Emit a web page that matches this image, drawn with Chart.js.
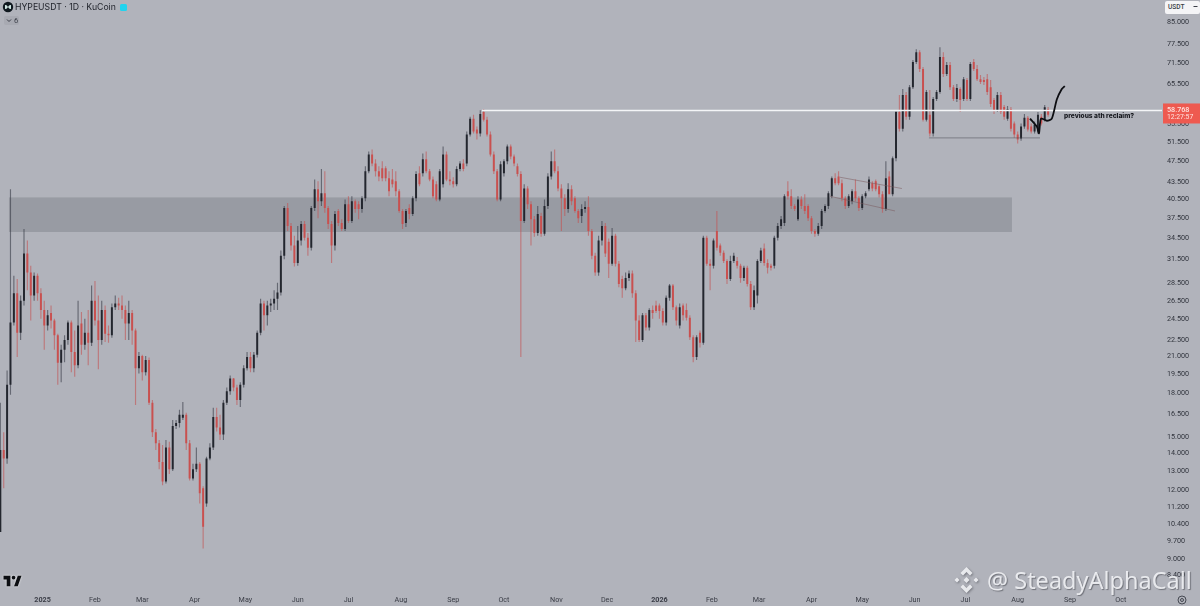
<!DOCTYPE html>
<html>
<head>
<meta charset="utf-8">
<title>HYPEUSDT 1D</title>
<script src="https://cdn.jsdelivr.net/npm/chart.js@4/dist/chart.umd.min.js"></script>
<style>
  html, body { margin: 0; padding: 0; background: #b1b3bb; overflow: hidden; }
  #wrap { position: relative; width: 1200px; height: 606px; }
  #wrap canvas { position: absolute; left: 0; top: 0; filter: blur(0.5px); }
  .abs { position: absolute; white-space: nowrap; }
  #title { left: 15px; top: 1px; font: 400 8.7px/12px Inter, Roboto, sans-serif; color: #23262e; }
  #interval { left: 4px; top: 16px; width: 15px; height: 9px; background: #a8aab2; border-radius: 2px; font: 400 7.5px/9px Roboto, sans-serif; color: #3a3d46; text-indent: 10px; }
  #unit { left: 1165px; top: 1px; width: 35px; height: 13px; background: #f4f4f6; border-radius: 2px; font: 500 6.6px/13px Roboto, sans-serif; color: #3a3d46; text-indent: 3px; }
  #note { left: 1064px; top: 112px; font: 800 6.6px/9px Inter, Roboto, sans-serif; color: #17191f; }
  #mark { left: 987px; top: 564px; font: 400 23.5px/32px "Noto Sans", sans-serif; color: rgba(240,241,244,.92); text-shadow: 1px 1px 1px rgba(60,62,70,.55); }
</style>
</head>
<body>
<div id="wrap">
  <canvas id="chart" width="1200" height="606"></canvas>
  <svg class="abs" style="left:2px;top:1px" width="12" height="12" viewBox="0 0 12 12"><circle cx="6" cy="6" r="5.2" fill="#10181f"/><path d="M3 4.2c1.2-.6 2 .2 3 1.800 1-1.600 1.800-2.400 3-1.800v3.600c-1.200.6-2-.2-3-1.800-1 1.600-1.800 2.400-3 1.800z" fill="#cfe6e2"/></svg>
  <div class="abs" id="title">HYPEUSDT · 1D · KuCoin</div>
  <div class="abs" style="left:120px;top:3.500px;width:7px;height:7px;background:#22d3ee;border-radius:1.500px"></div>
  <div class="abs" id="interval">6</div>
  <svg class="abs" style="left:6px;top:18px" width="6" height="5" viewBox="0 0 6 5"><path d="M1 1.500l2 2 2-2" fill="none" stroke="#3a3d46" stroke-width="1"/></svg>
  <div class="abs" id="unit">USDT</div>
  <svg class="abs" style="left:1193px;top:6px" width="5" height="3" viewBox="0 0 5 3"><path d="M.5.500h4" stroke="#3a3d46" stroke-width="1"/></svg>
  <div class="abs" id="note">previous ath reclaim?</div>
  <svg class="abs" style="left:3px;top:575px;filter:drop-shadow(0 0 1px #eee)" width="19" height="12" viewBox="0 0 36 22"><path d="M14 1H1v7h6v13h7zM28 21h-7l7-20h7zM20 8a3.500 3.500 0 1 0 0-7 3.500 3.500 0 0 0 0 7z" fill="#0c0e12"/></svg>
  <svg class="abs" style="left:953px;top:566px;filter:drop-shadow(1px 1px 1px rgba(60,62,70,.55))" width="27" height="28" viewBox="0 0 27 28"><g fill="rgba(240,241,244,.92)"><path d="M13.500 1l6 6-2.500 2.500-3.500-3.500-3.500 3.500L7.500 7zM13.500 27l6-6-2.500-2.500-3.500 3.500-3.500-3.500L7.500 21zM4 11.500L6.500 14 4 16.500 1.500 14zM23 11.500L25.500 14 23 16.500 20.500 14zM13.500 11L16.500 14l-3 3-3-3z"/></g></svg>
  <div class="abs" id="mark">@ SteadyAlphaCall</div>
  <svg class="abs" style="left:1177px;top:595px" width="10" height="10" viewBox="0 0 10 10"><circle cx="5" cy="5" r="4" fill="none" stroke="#3a3d46" stroke-width=".9"/><circle cx="5" cy="5" r="1.500" fill="none" stroke="#3a3d46" stroke-width=".9"/></svg>
</div>
<script>
// one candle every two days, days counted from 2025-01-01
const firstDay = -25;
const stepDays = 2;

const opens = [
  10.08, 14.2, 13.7, 18.65, 24.2, 27.35, 23.2, 26.5, 32.3, 29.85,
  27.1, 29.45, 27.35, 25.5, 23.9, 25.2, 24.4, 22.95, 20.45, 21.6,
  22.5, 24.2, 21.4, 20.25, 24.1, 22.05, 23.2, 22.25, 26.5, 24.4,
  22.5, 25.5, 23.1, 22.95, 25.8, 26.2, 26.0, 25.5, 24.1, 25.2,
  23.4, 20.0, 21.05, 19.65, 20.7, 17.3, 15.3, 14.6, 13.5, 12.45,
  14.35, 13.1, 15.7, 15.9, 16.25, 16.45, 14.6, 12.6, 13.1, 13.4,
  12.1, 11.35, 13.7, 14.35, 16.3, 15.6, 15.15, 17.3, 18.15, 19.15,
  18.45, 17.5, 18.65, 20.0, 20.95, 20.0, 21.15, 23.2, 26.2, 24.95,
  26.0, 26.2, 26.75, 27.45, 32.0, 39.1, 36.25, 33.4, 31.05, 34.1,
  36.55, 34.5, 33.1, 39.1, 42.25, 40.2, 41.55, 39.1, 36.55, 33.4,
  38.6, 36.7, 35.8, 39.7, 37.0, 40.2, 39.7, 38.9, 40.7, 45.6,
  48.9, 47.1, 45.6, 46.15, 46.15, 44.25, 44.05, 43.7, 41.9, 38.6,
  36.7, 39.1, 38.1, 40.7, 45.2, 45.2, 47.9, 45.6, 44.05, 43.15,
  40.5, 43.15, 48.9, 44.05, 43.7, 43.15, 46.0, 47.1, 47.1, 53.15,
  56.8, 54.25, 53.35, 58.4, 56.55, 53.15, 48.9, 45.6, 40.5, 45.2,
  47.5, 50.55, 48.5, 46.55, 45.05, 37.0, 42.4, 39.7, 37.3, 35.2,
  37.8, 35.1, 39.4, 44.6, 47.5, 45.6, 42.4, 40.7, 38.9, 42.25,
  40.7, 38.6, 37.8, 38.9, 39.25, 35.5, 32.0, 29.85, 34.1, 36.25,
  33.95, 30.95, 34.8, 30.95, 29.05, 27.95, 29.15, 29.7, 27.35, 24.4,
  22.5, 24.95, 23.7, 25.5, 26.0, 26.0, 25.4, 24.2, 26.85, 28.25,
  25.8, 23.9, 26.0, 25.5, 24.7, 22.75, 20.95, 23.2, 22.25, 34.5,
  30.95, 30.7, 35.5, 33.4, 32.4, 31.3, 29.05, 31.3, 31.3, 30.7,
  29.15, 30.45, 28.45, 25.8, 27.1, 31.3, 33.0, 31.05, 30.7, 30.7,
  34.5, 36.25, 36.7, 41.9, 41.05, 39.4, 37.3, 40.5, 39.4, 39.4,
  37.45, 35.5, 35.1, 36.25, 38.6, 39.4, 41.05, 44.25, 44.6, 43.35,
  40.7, 39.4, 40.2, 41.9, 40.7, 39.1, 41.05, 42.25, 43.35, 43.7,
  42.8, 41.4, 38.9, 44.6, 41.4, 48.1, 58.4, 54.45, 62.7, 57.25,
  64.8, 72.0, 75.0, 69.9, 56.55, 57.7, 53.35, 61.65, 63.5, 73.5,
  68.45, 71.1, 64.8, 61.65, 64.3, 61.65, 66.75, 61.65, 72.0, 69.9,
  67.0, 66.75, 67.0, 64.8, 61.4, 58.85, 62.7, 59.65, 56.8, 59.1,
  55.65, 53.15, 52.25, 54.95, 57.0, 54.95, 53.8, 53.8, 57.25, 56.55,
  59.1
];
const highs = [
  17.3, 15.3, 19.8, 42.25, 29.45, 29.05, 27.1, 35.8, 34.1, 30.7,
  29.85, 29.7, 27.95, 26.5, 25.5, 26.0, 24.6, 23.1, 22.05, 22.95,
  24.4, 24.4, 23.4, 26.5, 25.3, 24.6, 25.5, 28.25, 28.8, 27.1,
  26.5, 26.0, 23.9, 26.2, 27.1, 26.85, 27.1, 26.0, 26.5, 25.5,
  23.6, 21.4, 21.15, 21.05, 20.9, 17.5, 15.5, 14.8, 14.5, 14.8,
  14.7, 16.1, 16.1, 16.8, 17.35, 16.6, 14.8, 13.4, 14.35, 13.5,
  12.2, 13.8, 14.6, 16.95, 16.95, 16.45, 17.5, 18.45, 19.4, 19.2,
  18.65, 18.85, 20.25, 21.4, 21.4, 21.4, 23.4, 26.75, 26.5, 26.5,
  26.75, 27.7, 28.6, 32.7, 39.4, 39.9, 36.7, 34.8, 36.25, 37.0,
  37.0, 35.2, 39.4, 44.05, 43.7, 46.0, 45.6, 39.4, 37.0, 38.6,
  38.9, 37.3, 40.5, 41.05, 41.05, 40.5, 40.2, 41.05, 46.55, 49.5,
  49.9, 47.9, 46.55, 47.5, 46.55, 45.6, 46.0, 45.6, 42.25, 38.9,
  38.9, 39.7, 41.05, 45.6, 46.55, 49.1, 49.5, 46.0, 44.6, 43.7,
  46.0, 50.55, 49.5, 45.6, 44.45, 46.55, 47.5, 47.9, 53.8, 57.25,
  57.7, 54.95, 58.85, 59.1, 57.25, 53.8, 49.5, 46.0, 47.5, 47.9,
  50.95, 50.95, 48.9, 47.1, 45.6, 43.15, 42.8, 40.2, 37.8, 39.4,
  38.3, 40.5, 45.2, 49.5, 49.9, 46.55, 43.15, 41.4, 43.35, 43.0,
  41.05, 38.9, 39.7, 40.2, 41.05, 35.8, 32.4, 34.8, 37.0, 36.7,
  34.4, 35.95, 35.1, 31.3, 29.45, 29.85, 30.1, 30.1, 27.7, 24.95,
  25.2, 25.2, 25.7, 26.0, 26.5, 26.2, 25.7, 27.1, 28.45, 28.45,
  26.0, 26.2, 26.2, 26.2, 24.95, 22.95, 22.95, 23.4, 34.8, 34.8,
  31.55, 34.4, 38.6, 33.7, 32.7, 31.55, 32.0, 32.4, 31.85, 30.95,
  30.7, 30.7, 28.8, 28.25, 31.55, 33.1, 33.7, 31.55, 30.95, 34.8,
  36.7, 37.8, 41.4, 43.7, 42.25, 39.7, 41.05, 41.05, 41.4, 39.7,
  37.8, 35.8, 36.7, 38.9, 39.7, 41.9, 44.6, 45.2, 45.6, 44.05,
  41.05, 41.4, 42.25, 44.05, 41.05, 41.4, 41.9, 44.6, 43.7, 44.05,
  43.15, 41.9, 47.5, 45.6, 48.5, 58.85, 62.7, 64.3, 63.5, 65.4,
  72.6, 75.9, 75.6, 70.5, 64.0, 64.0, 62.2, 64.0, 76.6, 75.0,
  72.0, 72.0, 65.4, 65.65, 64.8, 67.6, 67.3, 72.0, 72.9, 71.1,
  68.15, 67.6, 68.45, 66.75, 61.9, 63.5, 63.5, 60.15, 59.9, 59.65,
  56.1, 53.8, 55.65, 57.9, 57.45, 55.65, 56.1, 58.4, 57.9, 60.15,
  59.65
];
const lows = [
  10.08, 12.1, 13.4, 17.9, 23.9, 20.95, 22.5, 26.0, 27.7, 24.4,
  26.5, 26.5, 24.6, 21.6, 23.4, 23.6, 21.6, 18.65, 18.85, 20.5,
  22.05, 19.65, 19.3, 20.0, 21.15, 21.6, 20.25, 21.95, 23.9, 19.9,
  22.05, 22.3, 22.25, 22.7, 25.5, 25.5, 24.6, 22.5, 22.5, 22.05,
  17.15, 19.55, 19.0, 19.4, 17.15, 15.0, 14.2, 13.1, 12.25, 12.35,
  12.85, 13.0, 15.5, 15.6, 16.1, 14.2, 12.5, 12.5, 12.95, 11.35,
  9.4, 11.2, 13.6, 14.2, 15.35, 14.8, 14.8, 17.15, 17.9, 18.15,
  17.15, 17.0, 18.45, 19.8, 19.65, 19.65, 20.9, 22.95, 23.4, 23.9,
  25.3, 25.5, 25.5, 27.1, 31.55, 35.5, 32.7, 30.6, 30.7, 33.4,
  34.1, 32.0, 32.7, 38.6, 37.45, 39.4, 38.3, 35.8, 31.05, 32.7,
  36.25, 35.5, 35.5, 36.7, 36.7, 38.3, 37.3, 38.3, 40.2, 45.2,
  46.55, 44.6, 43.7, 43.7, 43.7, 41.05, 42.6, 41.05, 38.3, 35.8,
  36.1, 37.3, 37.8, 40.2, 42.8, 44.6, 45.2, 43.7, 40.7, 40.2,
  40.2, 42.6, 43.7, 43.0, 42.6, 42.8, 45.6, 45.6, 46.55, 52.7,
  53.35, 52.05, 52.7, 56.1, 52.7, 48.5, 45.05, 40.2, 40.2, 44.6,
  46.95, 47.9, 46.55, 44.6, 20.95, 36.7, 38.9, 33.4, 34.65, 34.8,
  34.65, 34.8, 38.9, 44.05, 45.2, 41.9, 35.5, 37.8, 38.3, 39.55,
  38.3, 36.7, 36.7, 38.3, 34.8, 31.55, 29.45, 29.45, 33.4, 31.85,
  29.15, 30.7, 30.6, 28.05, 26.85, 27.7, 28.8, 26.85, 22.3, 22.3,
  22.3, 23.4, 23.4, 24.6, 25.2, 24.6, 23.9, 23.9, 26.5, 25.5,
  23.9, 23.6, 24.4, 24.4, 22.5, 20.5, 20.7, 21.8, 22.05, 30.7,
  27.7, 30.35, 32.7, 32.0, 31.05, 28.45, 28.8, 31.05, 30.35, 28.6,
  28.8, 28.15, 25.5, 25.5, 26.2, 31.05, 30.7, 29.7, 30.1, 30.35,
  34.1, 35.8, 36.25, 40.5, 38.9, 38.6, 37.0, 38.9, 38.1, 37.0,
  35.1, 34.65, 34.8, 35.8, 38.3, 38.9, 40.7, 43.0, 43.0, 40.2,
  38.9, 39.1, 39.7, 40.2, 38.6, 38.75, 40.7, 41.9, 41.9, 41.9,
  40.85, 38.3, 38.6, 41.55, 41.05, 47.5, 53.8, 53.8, 56.55, 56.55,
  64.3, 71.4, 69.0, 56.1, 56.1, 52.7, 52.7, 61.15, 63.0, 67.6,
  67.9, 64.0, 61.15, 60.9, 58.4, 61.15, 61.15, 61.15, 69.3, 66.5,
  65.65, 65.4, 62.7, 59.65, 57.9, 58.4, 57.9, 56.55, 56.3, 53.8,
  52.45, 51.2, 51.8, 54.45, 53.8, 53.35, 53.35, 53.35, 55.2, 56.1,
  57.25
];
const closes = [
  14.2, 13.7, 18.65, 24.2, 27.35, 23.2, 26.5, 32.3, 29.85, 27.1,
  29.45, 27.35, 25.5, 23.9, 24.95, 24.4, 22.95, 20.45, 21.6, 22.5,
  24.2, 21.4, 20.25, 23.9, 22.05, 23.2, 22.25, 26.5, 24.4, 22.5,
  25.5, 23.1, 22.95, 25.8, 26.2, 26.0, 25.5, 24.1, 25.2, 23.4,
  20.0, 21.05, 19.65, 20.7, 17.3, 15.3, 14.6, 13.5, 12.45, 14.35,
  13.1, 15.7, 15.9, 16.45, 16.45, 14.6, 12.6, 13.1, 13.4, 11.85,
  10.3, 13.7, 14.35, 16.3, 15.6, 15.15, 17.3, 18.15, 19.15, 18.45,
  17.5, 18.65, 20.0, 20.95, 20.0, 21.15, 23.2, 26.2, 24.95, 26.0,
  26.2, 26.75, 27.45, 32.0, 39.1, 36.25, 33.4, 31.05, 34.1, 36.55,
  34.5, 33.1, 39.1, 42.25, 40.2, 41.55, 39.1, 36.55, 33.4, 38.1,
  36.7, 35.8, 39.7, 37.0, 40.2, 38.9, 38.9, 40.7, 45.6, 48.9,
  47.1, 45.6, 44.6, 44.25, 44.25, 41.9, 43.15, 41.9, 38.6, 36.55,
  38.6, 38.1, 40.7, 45.05, 43.15, 47.9, 45.6, 44.05, 41.05, 40.5,
  45.6, 48.9, 44.05, 43.7, 43.15, 46.0, 47.1, 46.0, 53.15, 56.8,
  53.8, 53.35, 57.9, 56.55, 53.15, 48.9, 45.6, 40.5, 46.95, 47.5,
  50.55, 48.5, 47.1, 45.05, 37.0, 42.4, 39.7, 37.3, 35.2, 38.1,
  35.1, 39.4, 44.6, 47.5, 45.6, 42.4, 40.7, 38.9, 42.25, 40.2,
  38.6, 37.45, 38.9, 39.25, 35.5, 32.0, 29.85, 34.1, 36.25, 32.3,
  30.95, 34.8, 30.95, 28.45, 27.95, 29.15, 29.7, 27.35, 24.4, 22.5,
  24.95, 23.7, 25.5, 25.2, 25.4, 25.4, 24.2, 26.85, 28.25, 25.8,
  24.4, 25.8, 24.95, 24.7, 22.75, 20.95, 22.75, 22.25, 34.5, 30.95,
  30.7, 34.1, 33.1, 32.4, 31.3, 29.05, 31.3, 32.0, 30.7, 29.15,
  30.45, 28.45, 25.8, 27.7, 31.3, 32.7, 31.05, 30.45, 30.45, 34.5,
  36.25, 37.3, 41.05, 41.05, 39.4, 38.9, 40.5, 39.4, 38.6, 37.45,
  35.5, 35.1, 36.25, 38.6, 39.4, 41.55, 44.25, 43.35, 43.35, 40.7,
  39.4, 41.05, 41.9, 40.7, 39.1, 41.05, 41.55, 44.05, 42.4, 42.25,
  41.4, 38.9, 44.25, 41.4, 48.1, 58.4, 54.45, 62.7, 57.25, 64.8,
  72.0, 75.0, 69.9, 56.55, 63.5, 53.35, 61.65, 63.5, 73.5, 68.45,
  71.1, 64.8, 61.65, 64.55, 61.4, 67.0, 61.65, 71.4, 69.9, 67.0,
  66.2, 66.2, 63.5, 60.4, 58.85, 62.7, 58.4, 57.25, 59.1, 54.45,
  53.15, 52.05, 54.95, 57.0, 54.25, 53.8, 55.4, 57.7, 55.65, 59.55,
  57.7
];

// price axis
const priceTicks = [85, 77.5, 71.5, 65.5, 59.5, 55.5, 51.5, 47.5, 43.5, 40.5, 37.5, 34.5, 31.5, 28.5, 26.5, 24.5, 22.5, 21, 19.5, 18, 16.5, 15, 14, 13, 12, 11.2, 10.4, 9.7, 9, 8.4];
const lastPrice = 58.768;
const countdown = '12:27:57';

// time axis
const monthDays = [0, 31, 59, 90, 120, 151, 181, 212, 243, 273, 304, 334, 365, 396, 424, 455, 485, 516, 546, 577, 608, 638];
const monthLabels = ['2025', 'Feb', 'Mar', 'Apr', 'May', 'Jun', 'Jul', 'Aug', 'Sep', 'Oct', 'Nov', 'Dec', '2026', 'Feb', 'Mar', 'Apr', 'May', 'Jun', 'Jul', 'Aug', 'Sep', 'Oct'];

// drawings on the chart
const zoneDays = [-19.9, 573.6];
const zonePrices = [35.35, 40.85];
const athDays = [260, 663];
const athPrices = [58.768, 58.768];
const supportDays = [524.5, 590.2];
const supportPrices = [52.4, 52.4];
const upperTrendDays = [471.8, 508.5];
const upperTrendPrices = [44.45, 42.4];
const lowerTrendDays = [465.9, 504.4];
const lowerTrendPrices = [41.05, 38.6];
const forecastDays = [584.3, 588.4, 589.6, 590.8, 594.3, 597.2, 600.2, 603.1, 604.9];
const forecastPrices = [56.8, 54.9, 53.4, 56.8, 56.3, 56.8, 61.6, 64.3, 65.1];

const red = '#c9504f';
const black = '#23262e';
const redWick = 'rgba(196,84,84,.62)';
const blackWick = 'rgba(52,55,66,.6)';

const candleDays = opens.map((o, i) => firstDay + i * stepDays);
const isUp = opens.map((o, i) => closes[i] >= o);

function linePoints(days, prices) {
    return days.map((d, i) => ({ x: d, y: prices[i] }));
}

// gray supply zone and the red last price tag, placed through the scales
const drawingsPlugin = {
    id: 'drawings',
    beforeDatasetsDraw(chart) {
        const { ctx, scales: { x, y } } = chart;
        const left = x.getPixelForValue(zoneDays[0]);
        const right = x.getPixelForValue(zoneDays[1]);
        const top = y.getPixelForValue(zonePrices[1]);
        const bottom = y.getPixelForValue(zonePrices[0]);
        ctx.save();
        ctx.fillStyle = '#989ba3';
        ctx.fillRect(left, top, right - left, bottom - top);
        ctx.restore();
    },
    afterDraw(chart) {
        const { ctx, scales: { y } } = chart;
        const py = y.getPixelForValue(lastPrice);
        ctx.save();
        ctx.fillStyle = '#ee5a50';
        ctx.fillRect(1163, py - 7, 37, 20);
        ctx.fillStyle = '#ffe3df';
        ctx.font = '500 7.2px Roboto';
        ctx.textBaseline = 'middle';
        ctx.fillText(lastPrice.toFixed(3), 1167, py - 0.5);
        ctx.font = '400 6.8px Roboto';
        ctx.fillText(countdown, 1167, py + 7);
        ctx.restore();
    }
};

new Chart(document.getElementById('chart').getContext('2d'), {
    data: {
        datasets: [
            {
                type: 'line', order: 1, data: linePoints(forecastDays, forecastPrices),
                borderColor: '#0d0e12', borderWidth: 1.8, pointRadius: 0, tension: 0.25
            },
            {
                type: 'line', order: 2, data: linePoints(athDays, athPrices),
                borderColor: '#f4f5f7', borderWidth: 1.5, pointRadius: 0
            },
            {
                type: 'line', order: 2, data: linePoints(supportDays, supportPrices),
                borderColor: 'rgba(70,72,80,.7)', borderWidth: 0.7, pointRadius: 0
            },
            {
                type: 'line', order: 2, data: linePoints(upperTrendDays, upperTrendPrices),
                borderColor: 'rgba(120,85,90,.7)', borderWidth: 0.7, pointRadius: 0
            },
            {
                type: 'line', order: 2, data: linePoints(lowerTrendDays, lowerTrendPrices),
                borderColor: 'rgba(120,85,90,.7)', borderWidth: 0.7, pointRadius: 0
            },
            {
                type: 'bar', order: 3, grouped: false, categoryPercentage: 1, barPercentage: 0.58,
                data: candleDays.map((d, i) => ({ x: d, y: [opens[i], closes[i]] })),
                backgroundColor: isUp.map(u => u ? black : red)
            },
            {
                type: 'bar', order: 4, grouped: false, categoryPercentage: 1, barPercentage: 0.34,
                data: candleDays.map((d, i) => ({ x: d, y: [lows[i], highs[i]] })),
                backgroundColor: isUp.map(u => u ? blackWick : redWick)
            }
        ]
    },
    options: {
        responsive: false,
        animation: false,
        layout: { padding: 0, autoPadding: false },
        plugins: { legend: { display: false }, tooltip: { enabled: false } },
        scales: {
            x: {
                type: 'linear',
                min: -25.2,
                max: 662.4,
                offset: false,
                grid: { display: false, drawTicks: false },
                border: { display: false },
                afterFit: scale => { scale.height = 14; },
                afterBuildTicks: scale => { scale.ticks = monthDays.map(d => ({ value: d })); },
                ticks: {
                    autoSkip: false,
                    maxRotation: 0,
                    padding: 4,
                    color: '#3a3d46',
                    font: ctx => {
                        const bold = ctx.tick && (ctx.tick.value === 0 || ctx.tick.value === 365);
                        return { family: 'Roboto', size: 7.2, weight: bold ? '700' : '400' };
                    },
                    callback: value => monthLabels[monthDays.indexOf(value)]
                }
            },
            y: {
                type: 'logarithmic',
                position: 'right',
                bounds: 'data',
                min: 7.84,
                max: 89.73,
                grid: { display: false, drawTicks: false },
                border: { display: false },
                afterFit: scale => { scale.width = 38; },
                afterBuildTicks: scale => { scale.ticks = priceTicks.map(v => ({ value: v })); },
                ticks: {
                    autoSkip: false,
                    padding: 5,
                    color: '#31343d',
                    font: { family: 'Roboto', size: 7.2, weight: '400' },
                    callback: value => value.toFixed(3)
                }
            }
        }
    },
    plugins: [drawingsPlugin]
});
</script>
</body>
</html>
